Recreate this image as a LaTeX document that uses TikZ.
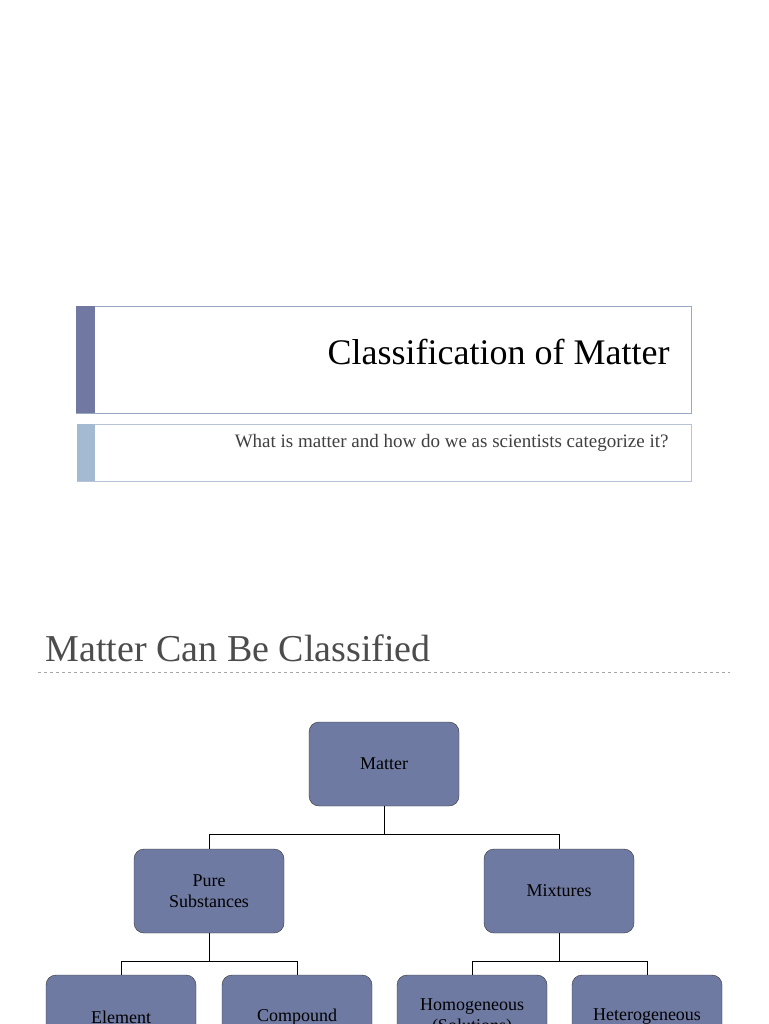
\documentclass[tikz,border=0pt]{standalone}
\usepackage{tikz}
\usepackage{fontspec}
\setmainfont{Liberation Serif}
\definecolor{boxblue}{HTML}{6F7AA2}
\definecolor{barblue}{HTML}{7179A3}
\definecolor{barlight}{HTML}{A3BAD2}
\definecolor{frame}{HTML}{9AA8C4}

\tikzset{
  classbox/.style={draw=black!80,fill=boxblue,rounded corners=10pt,minimum width=150pt,
    minimum height=84pt,align=center,font=\fontsize{18}{21}\selectfont,inner sep=2pt},
  branch/.style={thick,black}
}

\begin{document}
\begin{tikzpicture}[x=1pt,y=-1pt]
  \useasboundingbox (0,0) rectangle (768,1024);
  \clip (0,0) rectangle (768,1024);

  % Title slide
  \draw[frame,fill=white] (76,306) rectangle (691,413);
  \fill[barblue] (76,306) rectangle (95,413);
  \node[anchor=east,font=\fontsize{36}{38}\selectfont] (title) at (673,352) {Classification of Matter};
  \draw[frame!70,fill=white] (77,424) rectangle (691,481);
  \fill[barlight] (77,424) rectangle (95,481);
  \node[anchor=east,text=black!75,font=\fontsize{19}{20}\selectfont] (sub) at (672,443)
    {What is matter and how do we as scientists categorize it?};

  % Second slide
  \node[anchor=west,text=black!70,font=\fontsize{38}{40}\selectfont] (head) at (42,648) {Matter Can Be Classified};
  \draw[black!35,dashed] (38,672) -- (730,672);

  \node[classbox] (matter) at (384,764) {Matter};
  \node[classbox] (pure) at (209,891) {Pure\\Substances};
  \node[classbox] (mix) at (559,891) {Mixtures};
  \node[classbox] (elem) at (121,1017) {Element};
  \node[classbox] (comp) at (297,1017) {Compound};
  \node[classbox] (homo) at (472,1017) {Homogeneous\\(Solutions)};
  \node[classbox] (hetero) at (647,1017) {Heterogeneous};

  \draw[branch] (matter.south) -- ++(0,28) -| (pure.north);
  \draw[branch] (matter.south) -- ++(0,28) -| (mix.north);
  \draw[branch] (pure.south) -- ++(0,28) -| (elem.north);
  \draw[branch] (pure.south) -- ++(0,28) -| (comp.north);
  \draw[branch] (mix.south) -- ++(0,28) -| (homo.north);
  \draw[branch] (mix.south) -- ++(0,28) -| (hetero.north);
\end{tikzpicture}
\end{document}
